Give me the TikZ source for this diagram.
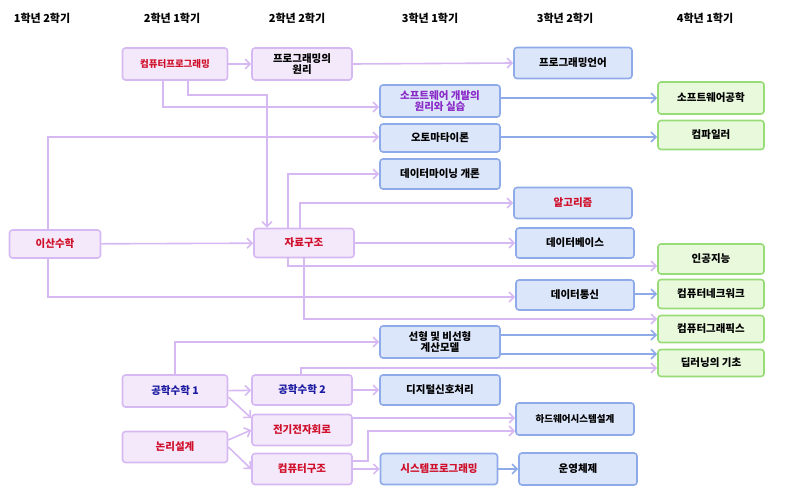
\documentclass[tikz,border=0pt]{standalone}
\usepackage{fontspec}
\setmainfont{Noto Sans CJK KR}
\usetikzlibrary{arrows.meta}
\definecolor{pl}{HTML}{D6B8F2}
\definecolor{pf}{HTML}{F4E8FB}
\definecolor{bl}{HTML}{8FAAE8}
\definecolor{bf}{HTML}{DCE6FA}
\definecolor{gl}{HTML}{98DC78}
\definecolor{gf}{HTML}{E8F9DC}
\definecolor{rt}{HTML}{D0102A}
\definecolor{dt}{HTML}{1A1AA0}
\definecolor{vt}{HTML}{8A2BC8}
\begin{document}
\begin{tikzpicture}[x=1pt,y=-1pt,
 font=\fontsize{10.5}{11.5}\selectfont\bfseries,
 box/.style={rounded corners=3pt,line width=1.6pt,align=center,inner sep=0pt},
 pk/.style={box,draw=pl,fill=pf},
 bb/.style={box,draw=bl,fill=bf},
 gb/.style={box,draw=gl,fill=gf},
 hd/.style={font=\fontsize{11}{12}\selectfont\bfseries},
 pa/.style={draw=pl,line width=1.6pt,-{Straight Barb[length=5pt,width=10pt]}},
 ba/.style={draw=bl,line width=1.6pt,-{Straight Barb[length=5pt,width=10pt]}}]
\useasboundingbox (0,0) rectangle (785,492);
\foreach \x/\t [count=\i] in {42/1학년 2학기,172/2학년 1학기,297/2학년 2학기,430/3학년 1학기,565/3학년 2학기,705/4학년 1학기}
  \node[hd] (h\i) at (\x,18) {\t};
% column 1
\node[pk,minimum width=91,minimum height=28,text=rt] (isan) at (55,244) {이산수학};
% column 2
\node[pk,minimum width=105,minimum height=32,text=rt,font=\fontsize{9.5}{10}\selectfont\bfseries] (comp) at (175,64) {컴퓨터프로그래밍};
\node[pk,minimum width=105,minimum height=32,text=dt] (em1) at (175,391) {공학수학 1};
\node[pk,minimum width=105,minimum height=31,text=rt] (logic) at (175,447) {논리설계};
% column 3
\node[pk,minimum width=100,minimum height=32] (prin) at (302,64) {프로그래밍의\\원리};
\node[pk,minimum width=100,minimum height=29,text=rt] (ds) at (304,243) {자료구조};
\node[pk,minimum width=100,minimum height=30,text=dt] (em2) at (302,390) {공학수학 2};
\node[pk,minimum width=100,minimum height=31,text=rt] (circ) at (302,430) {전기전자회로};
\node[pk,minimum width=100,minimum height=31,text=rt] (arch) at (302,469) {컴퓨터구조};
% column 4
\node[bb,minimum width=120,minimum height=32,text=vt] (sw) at (440,101) {소프트웨어 개발의\\원리와 실습};
\node[bb,minimum width=120,minimum height=28] (auto) at (440,138) {오토마타이론};
\node[bb,minimum width=120,minimum height=30] (dm) at (440,174) {데이터마이닝 개론};
\node[bb,minimum width=120,minimum height=32] (lin) at (440,342) {선형 및 비선형\\계산모델};
\node[bb,minimum width=120,minimum height=30] (dsp) at (440,390) {디지털신호처리};
\node[bb,minimum width=117,minimum height=31,text=rt] (sysp) at (439,469) {시스템프로그래밍};
% column 5
\node[bb,minimum width=118,minimum height=31] (pl) at (573,63) {프로그래밍언어};
\node[bb,minimum width=118,minimum height=31,text=rt] (alg) at (573,203) {알고리즘};
\node[bb,minimum width=118,minimum height=30] (db) at (575,243) {데이터베이스};
\node[bb,minimum width=118,minimum height=30] (dc) at (575,295) {데이터통신};
\node[bb,minimum width=118,minimum height=32,font=\fontsize{9.5}{10}\selectfont\bfseries] (hw) at (575,419) {하드웨어시스템설계};
\node[bb,minimum width=118,minimum height=32] (os) at (578,469) {운영체제};
% column 6
\node[gb,minimum width=106,minimum height=32] (se) at (711,98) {소프트웨어공학};
\node[gb,minimum width=106,minimum height=29] (cc) at (711,135) {컴파일러};
\node[gb,minimum width=106,minimum height=30] (ai) at (711,259) {인공지능};
\node[gb,minimum width=106,minimum height=29] (net) at (711,294) {컴퓨터네크워크};
\node[gb,minimum width=106,minimum height=27] (cg) at (711,329) {컴퓨터그래픽스};
\node[gb,minimum width=106,minimum height=27] (dl) at (711,363) {딥러닝의 기초};
% connectors
\draw[pa] (comp) -- (prin);
\draw[pa] (comp.south -| 163,0) |- (sw.west |- 0,107);
\draw[pa] (comp.south -| 188,0) |- (267,95) -- (ds.north -| 267,0);
\draw[pa] (prin.east) -- (pl.west);
\draw[ba] (sw.east |- 0,98) -- (se.west);
\draw[ba] (auto.east |- 0,137) -- (cc.west |- 0,137);
\draw[pa] (isan.north -| 48,0) |- (auto.west |- 0,137);
\draw[pa] (isan) -- (ds);
\draw[pa] (isan.south -| 48,0) |- (dc.west |- 0,297);
\draw[pa] (ds.north -| 288,0) |- (dm.west);
\draw[pa] (ds.north -| 300,0) |- (alg.west);
\draw[pa] (ds) -- (db);
\draw[pa] (ds.south -| 288,0) |- (ai.west |- 0,266);
\draw[pa] (ds.south -| 304,0) |- (cg.west |- 0,319);
\draw[ba] (dc.east |- 0,294) -- (net.west);
\draw[ba] (lin.east |- 0,335) -- (cg.west |- 0,335);
\draw[ba] (lin.east |- 0,354) -- (dl.west |- 0,354);
\draw[pa] (em1.north) |- (lin.west);
\draw[pa] (em2.north -| 301,0) |- (dl.west |- 0,368);
\draw[pa] (em1) -- (em2);
\draw[pa] (em1.east |- 0,397) -- (circ.west |- 0,418);
\draw[pa] (em2) -- (dsp);
\draw[pa] (circ.east |- 0,418) -- (hw.west |- 0,418);
\draw[pa] (arch.east |- 0,461) -- (368,461) |- (hw.west |- 0,431);
\draw[pa] (logic.east |- 0,440) -- (circ.west |- 0,430);
\draw[pa] (logic.east |- 0,447) -- (arch.west);
\draw[pa] (arch) -- (sysp);
\draw[ba] (sysp) -- (os);
\end{tikzpicture}
\end{document}
